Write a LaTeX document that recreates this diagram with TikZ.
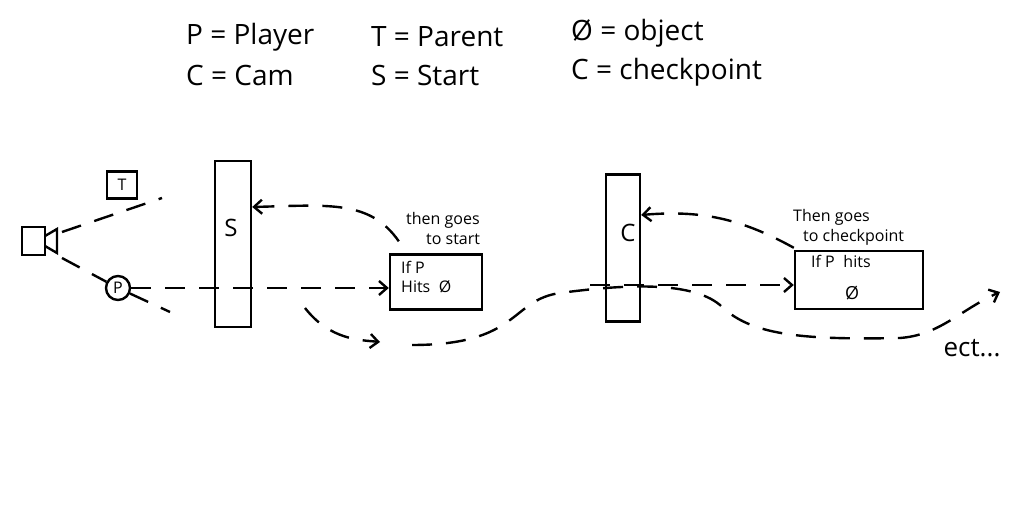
\documentclass[tikz,border=0pt]{standalone}
\usepackage{fontspec}
\setmainfont{Open Sans}
\usetikzlibrary{arrows.meta}
\begin{document}
\begin{tikzpicture}[x=1pt,y=-1pt,line width=2.4pt,
  dsh/.style={dash pattern=on 20pt off 14pt},
  arr/.style={-{Straight Barb[length=8pt,width=14pt]}},
  txt/.style={font=\fontsize{28}{32}\selectfont,anchor=west,inner sep=0pt},
  small/.style={font=\fontsize{16}{20}\selectfont,inner sep=0pt}]
\useasboundingbox[fill=white] (0,0) rectangle (1024,529);
% legend
\node[txt] (l1) at (185,37) {P = Player};
\node[txt] (l2) at (370,37) {T = Parent};
\node[txt] (l3) at (570,33) {Ø = object};
\node[txt] (l4) at (185,76) {C = Cam};
\node[txt] (l5) at (370,76) {S = Start};
\node[txt] (l6) at (570,72) {C = checkpoint};
% camera
\draw (22,227) rectangle (45,255);
\draw (45,236) -- (57,229) -- (57,253) -- (45,246);
\coordinate (cam1) at (62,232);
\coordinate (cam2) at (62,258);
\node[draw,minimum width=30pt,minimum height=27pt,inner sep=0pt,font=\fontsize{16}{18}\selectfont] (T) at (122,185) {T};
\node[draw,circle,minimum size=24pt,inner sep=0pt,font=\fontsize{16}{18}\selectfont] (P) at (118,288) {P};
\coordinate (te) at (162,198);
\coordinate (pe) at (170,312);
\draw[dsh] (cam1) -- (te);
\draw[dsh] (cam2) -- (P) -- (pe);
% S bar
\node[draw,minimum width=36pt,minimum height=166pt,inner sep=0pt] (S) at (233,244) {};
\node[font=\fontsize{24}{26}\selectfont] (Sl) at (231,228) {S};
% box1
\node[draw,minimum width=92pt,minimum height=55pt,inner sep=0pt] (b1) at (436,282) {};
\node[small,anchor=north west,align=left] (b1t) at (400,260) {If P\\[-1pt]Hits \;Ø};
\node[small,align=left,anchor=south west] (t1) at (405,246) {then goes\\\hspace*{20pt}to start};
% C bar
\node[draw,minimum width=34pt,minimum height=147pt,inner sep=0pt] (C) at (623,248) {};
\node[font=\fontsize{24}{26}\selectfont] (Cl) at (628,233) {C};
% box2
\node[draw,minimum width=128pt,minimum height=58pt,inner sep=0pt] (b2) at (859,280) {};
\node[small,anchor=north west] (b2t) at (810,254) {If P\; hits};
\node[font=\fontsize{18}{20}\selectfont] (b2o) at (852,293) {Ø};
\node[small,align=left,anchor=south west] (t2) at (792,247) {Then goes\\\hspace*{10pt}to checkpoint};
\node[font=\fontsize{26}{28}\selectfont] (ect) at (972,348) {ect...};
% connectors
\draw[dsh,arr] (P) -- (b1.west |- P);
\draw[dsh,arr] ([shift={(10,-12)}]b1.north west) .. controls (370,200) and (330,205) .. (S.east |- 0,207);
\draw[dsh,arr] (590,285) -- (b2.west |- 0,285);
\draw[dsh,arr] ([shift={(0,-2)}]b2.north west) .. controls (740,218) and (700,210) .. (C.east |- 0,215);
\draw[dsh,arr] (305,308) .. controls (330,340) and (360,340) .. (380,342);
\draw[dsh] (412,345) .. controls (520,345) and (510,300) .. (560,293)
  .. controls (620,285) and (690,280) .. (720,305)
  .. controls (750,335) and (800,340) .. (900,338);
\draw[dsh,arr] (900,338) .. controls (940,335) and (960,310) .. (1000,292);
\end{tikzpicture}
\end{document}
